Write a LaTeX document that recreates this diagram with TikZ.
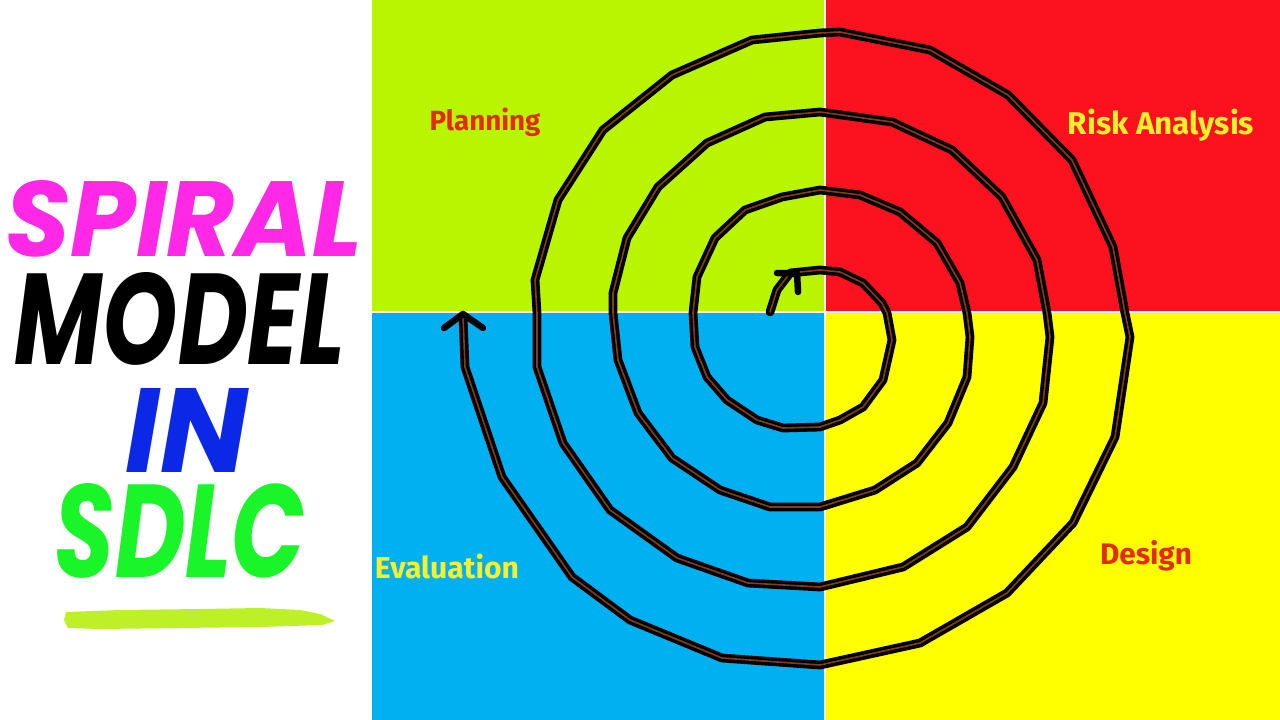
\documentclass[tikz,border=0pt]{standalone}
\usepackage{fontspec}
\setmainfont{Fira Sans}
\newfontfamily\titlefont{Poppins}
\newfontfamily\labelfont{Fira Sans}
\definecolor{limeq}{RGB}{186,245,0}
\definecolor{redq}{RGB}{252,18,30}
\definecolor{blueq}{RGB}{0,176,240}
\definecolor{yellowq}{RGB}{255,255,0}
\definecolor{brownc}{RGB}{130,62,28}
\definecolor{magentat}{RGB}{255,40,230}
\definecolor{bluet}{RGB}{10,40,230}
\definecolor{greent}{RGB}{25,245,40}
\definecolor{brushc}{RGB}{190,240,40}
\definecolor{redlabel}{RGB}{228,42,18}
\definecolor{yellowlabel}{RGB}{248,240,45}
\tikzset{
  spiralline/.style={draw=black, line width=3.6pt, double=brownc, double distance=1.6pt, line join=round, line cap=round},
  arrowarm/.style={draw=black, line width=6.5pt, line cap=round, line join=round},
  qlabel/.style={inner sep=0pt, font=\labelfont\bfseries},
  titleword/.style={inner sep=0pt, font=\titlefont\bfseries\itshape}
}
\begin{document}
\begin{tikzpicture}[x=1pt,y=-1pt]
\useasboundingbox (0,0) rectangle (1280,720);
\fill[white] (0,0) rectangle (1280,720);
% quadrants
\fill[limeq] (372,0) rectangle (825,312);
\fill[redq] (825,0) rectangle (1280,312);
\fill[blueq] (372,312) rectangle (825,720);
\fill[yellowq] (825,312) rectangle (1280,720);
\draw[white, line width=2pt] (825,0) -- (825,720);
\draw[white, line width=2pt] (372,312) -- (1280,312);
% title
\node[titleword, text=magentat] (t1) at (184,219) {\resizebox{357pt}{76pt}{SPIRAL}};
\node[titleword, text=black] (t2) at (180,319) {\resizebox{330pt}{92pt}{MODEL}};
\node[titleword, text=bluet] (t3) at (187,430) {\resizebox{122pt}{84pt}{IN}};
\node[titleword, text=greent] (t4) at (180,531) {\resizebox{250pt}{94pt}{SDLC}};
% brush stroke
\fill[brushc] (66,612) -- (120,610) -- (200,609) -- (260,608) -- (300,610) -- (320,614) -- (335,621) -- (322,625) -- (260,627) -- (180,628) -- (100,629) -- (68,628) -- (64,620) -- cycle;
% labels
\node[qlabel, text=redlabel] (planning) at (485,122) {\resizebox{111pt}{!}{Planning}};
\node[qlabel, text=yellowlabel] (risk) at (1161,125) {\resizebox{186pt}{!}{Risk Analysis}};
\node[qlabel, text=yellowlabel] (evaluation) at (447,567) {\resizebox{144pt}{!}{Evaluation}};
\node[qlabel, text=redlabel] (design) at (1146,556) {\resizebox{92pt}{!}{Design}};
% spiral
\draw[spiralline] (770,312) -- (777,290) -- (790,273) -- (820,270) -- (840,272) -- (863,283) -- (882,303) -- (887,313) -- (892,340) -- (883,380) -- (863,407) -- (840,420) -- (820,427) -- (783,428) -- (757,420) -- (727,400) -- (707,377) -- (695,347) -- (693,313)
 -- (697,277) -- (715,238) -- (745,210) -- (782,197) -- (820,190) -- (860,195) -- (900,212) -- (937,243) -- (960,283) -- (967,313) -- (970,337) -- (967,377) -- (948,423) -- (917,463) -- (875,490) -- (820,507) -- (770,507) -- (720,490) -- (672,458) -- (638,413) -- (618,360) -- (613,313)
 -- (613,293) -- (627,238) -- (658,187) -- (707,143) -- (765,117) -- (820,112) -- (892,122) -- (952,150) -- (1002,197) -- (1037,260) -- (1047,313) -- (1050,337) -- (1043,403) -- (1013,467) -- (967,527) -- (903,567) -- (820,587) -- (748,583) -- (677,558) -- (610,510) -- (563,443) -- (537,367) -- (537,313)
 -- (535,280) -- (558,200) -- (603,130) -- (672,75) -- (752,40) -- (820,33) -- (840,32) -- (930,50) -- (1008,95) -- (1072,160) -- (1113,247) -- (1125,313) -- (1130,337) -- (1115,437) -- (1073,523) -- (1007,593) -- (920,643) -- (820,665) -- (722,658) -- (630,620) -- (572,577) -- (502,477) -- (465,367) -- (463,316);
% arrowheads
\coordinate (tipin) at (797,273);
\coordinate (tipinA) at (777,273);
\coordinate (tipinB) at (798,292);
\draw[arrowarm] (tipinA) -- (tipin) -- (tipinB);
\coordinate (tipout) at (463,314);
\coordinate (tipoutA) at (444,328);
\coordinate (tipoutB) at (483,328);
\draw[arrowarm] (tipoutA) -- (tipout) -- (tipoutB);
\end{tikzpicture}
\end{document}
